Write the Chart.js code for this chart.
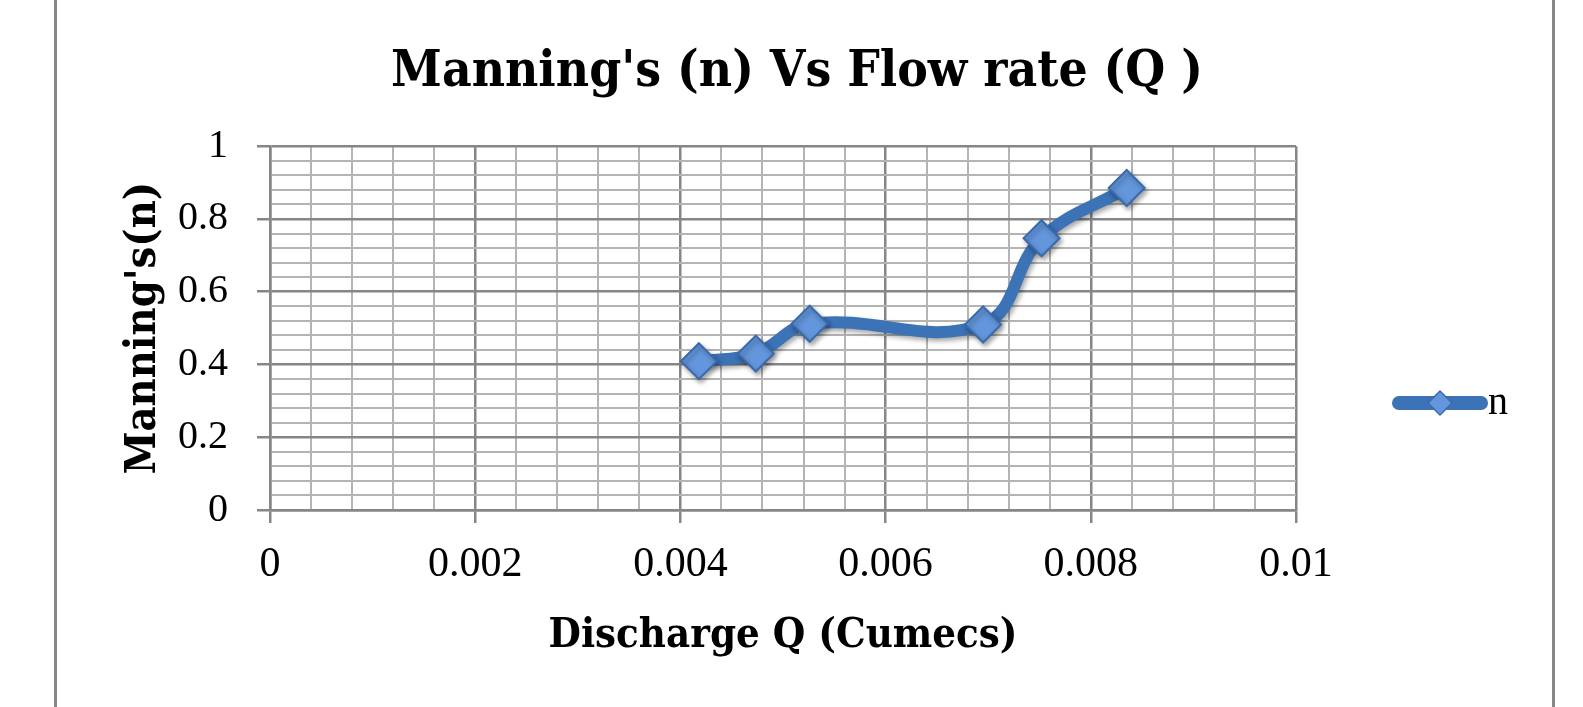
<!DOCTYPE html>
<html>
<head>
<meta charset="utf-8">
<script src="https://cdn.jsdelivr.net/npm/chart.js@4/dist/chart.umd.min.js"></script>
<style>
  html, body { margin: 0; padding: 0; background: #fff; overflow: hidden; }
  #wrap { position: relative; width: 1583px; height: 707px; }
  #frame { position: absolute; left: 54px; top: 0; width: 1495px; height: 707px;
           border-left: 3px solid #888; border-right: 3px solid #888; pointer-events: none; }
  canvas { position: absolute; left: 0; top: 0; }
</style>
</head>
<body>
<div id="wrap">
  <canvas id="chartManning" width="1583" height="707"></canvas>
  <div id="frame"></div>
</div>
<script>
// data
const seriesName = 'n';
const discharge = [0.00418, 0.004735, 0.00526, 0.00695, 0.00752, 0.00835];
const manningN = [0.409, 0.430, 0.512, 0.510, 0.747, 0.885];

// axis settings
const xMin = 0, xMax = 0.01, xMajor = 0.002, xMinor = 0.0004;
const yMin = 0, yMax = 1, yMajor = 0.2, yMinor = 0.04;

const chartTitle = "Manning's (n) Vs Flow rate (Q )";
const xTitle = 'Discharge Q (Cumecs)';
const yTitle = "Manning's(n)";

const lineBlue = '#3c72b6';
const markerFill = '#6396dc';
const markerEdge = '#3a6aab';
const majorGrid = '#868686';
const minorGrid = '#b4b4b4';

const titleFont = "'DejaVu Serif Condensed', 'DejaVu Serif', serif";
const tickFont = "'Liberation Serif', 'DejaVu Serif', serif";

function isMajor(v, step) {
  const r = v / step;
  return Math.abs(r - Math.round(r)) < 1e-6;
}

// legend drawn to the right, like the spreadsheet legend
const sideLegend = {
  id: 'sideLegend',
  afterDraw(chart) {
    const ctx = chart.ctx;
    const ds = chart.data.datasets[0];
    const cx = 1440, cy = 403;
    ctx.save();
    ctx.strokeStyle = ds.borderColor;
    ctx.lineWidth = 14;
    ctx.lineCap = 'round';
    ctx.beginPath();
    ctx.moveTo(1399, cy);
    ctx.lineTo(1481, cy);
    ctx.stroke();
    ctx.beginPath();
    ctx.moveTo(cx, cy - 12);
    ctx.lineTo(cx + 12, cy);
    ctx.lineTo(cx, cy + 12);
    ctx.lineTo(cx - 12, cy);
    ctx.closePath();
    ctx.fillStyle = ds.pointBackgroundColor;
    ctx.fill();
    ctx.lineWidth = 1.5;
    ctx.strokeStyle = ds.pointBorderColor;
    ctx.stroke();
    ctx.fillStyle = '#000';
    ctx.font = '40px ' + tickFont;
    ctx.textBaseline = 'middle';
    ctx.textAlign = 'left';
    ctx.fillText(ds.label, 1488, cy);
    ctx.restore();
  }
};

// soft shadow under the line and markers
const markerShadow = {
  id: 'markerShadow',
  beforeDatasetsDraw(chart) {
    chart.ctx.save();
    chart.ctx.shadowColor = 'rgba(0,0,0,0.35)';
    chart.ctx.shadowBlur = 5;
    chart.ctx.shadowOffsetX = 2;
    chart.ctx.shadowOffsetY = 3;
  },
  afterDatasetsDraw(chart) {
    chart.ctx.restore();
  }
};

const ctx = document.getElementById('chartManning').getContext('2d');
const myChart = new Chart(ctx, {
  type: 'line',
  data: {
    datasets: [{
      label: seriesName,
      data: discharge.map((q, i) => ({ x: q, y: manningN[i] })),
      borderColor: lineBlue,
      borderWidth: 12,
      tension: 0.4,
      pointStyle: 'rectRot',
      pointRadius: 18,
      pointBackgroundColor: markerFill,
      pointBorderColor: markerEdge,
      pointBorderWidth: 2,
      fill: false
    }]
  },
  plugins: [markerShadow, sideLegend],
  options: {
    responsive: false,
    animation: false,
    devicePixelRatio: 1,
    layout: { padding: { left: 11, right: 0, top: 0, bottom: 46 } },
    plugins: {
      legend: { display: false },
      tooltip: { enabled: false },
      title: {
        display: true,
        text: chartTitle,
        color: '#000',
        font: { family: titleFont, size: 51, weight: 'bold' },
        padding: { top: 42, bottom: 43 }
      }
    },
    scales: {
      x: {
        type: 'linear',
        min: xMin,
        max: xMax,
        afterFit(scale) { scale.height = 151; },
        border: { color: majorGrid, width: 2.5 },
        grid: {
          color: c => isMajor(c.tick.value, xMajor) ? majorGrid : minorGrid,
          lineWidth: c => isMajor(c.tick.value, xMajor) ? 2.5 : 2,
          tickColor: c => isMajor(c.tick.value, xMajor) ? majorGrid : 'rgba(0,0,0,0)',
          tickLength: 13
        },
        ticks: {
          stepSize: xMinor,
          autoSkip: false,
          maxRotation: 0,
          padding: 17,
          color: '#000',
          font: { family: tickFont, size: 42 },
          callback: v => isMajor(v, xMajor) ? String(+v.toFixed(4)) : ''
        },
        title: {
          display: true,
          text: xTitle,
          color: '#000',
          font: { family: titleFont, size: 41.5, weight: 'bold' },
          padding: { top: 0, bottom: 0 }
        }
      },
      y: {
        type: 'linear',
        min: yMin,
        max: yMax,
        afterFit(scale) { scale.width = 259; },
        border: { color: majorGrid, width: 2.5 },
        grid: {
          color: c => isMajor(c.tick.value, yMajor) ? majorGrid : minorGrid,
          lineWidth: c => isMajor(c.tick.value, yMajor) ? 2.5 : 2,
          tickColor: c => isMajor(c.tick.value, yMajor) ? majorGrid : 'rgba(0,0,0,0)',
          tickLength: 13
        },
        ticks: {
          stepSize: yMinor,
          autoSkip: false,
          padding: 29,
          color: '#000',
          font: { family: tickFont, size: 40 },
          callback: v => isMajor(v, yMajor) ? String(+v.toFixed(2)) : ''
        },
        title: {
          display: true,
          text: yTitle,
          color: '#000',
          font: { family: titleFont, size: 43, weight: 'bold' },
          padding: { top: 107, bottom: 0 }
        }
      },
      // empty box on the right that leaves room for the legend
      legendRoom: {
        type: 'linear',
        position: 'right',
        afterFit(scale) { scale.width = 287; },
        grid: { display: false },
        border: { display: false },
        ticks: { display: false }
      }
    }
  }
});
</script>
</body>
</html>
